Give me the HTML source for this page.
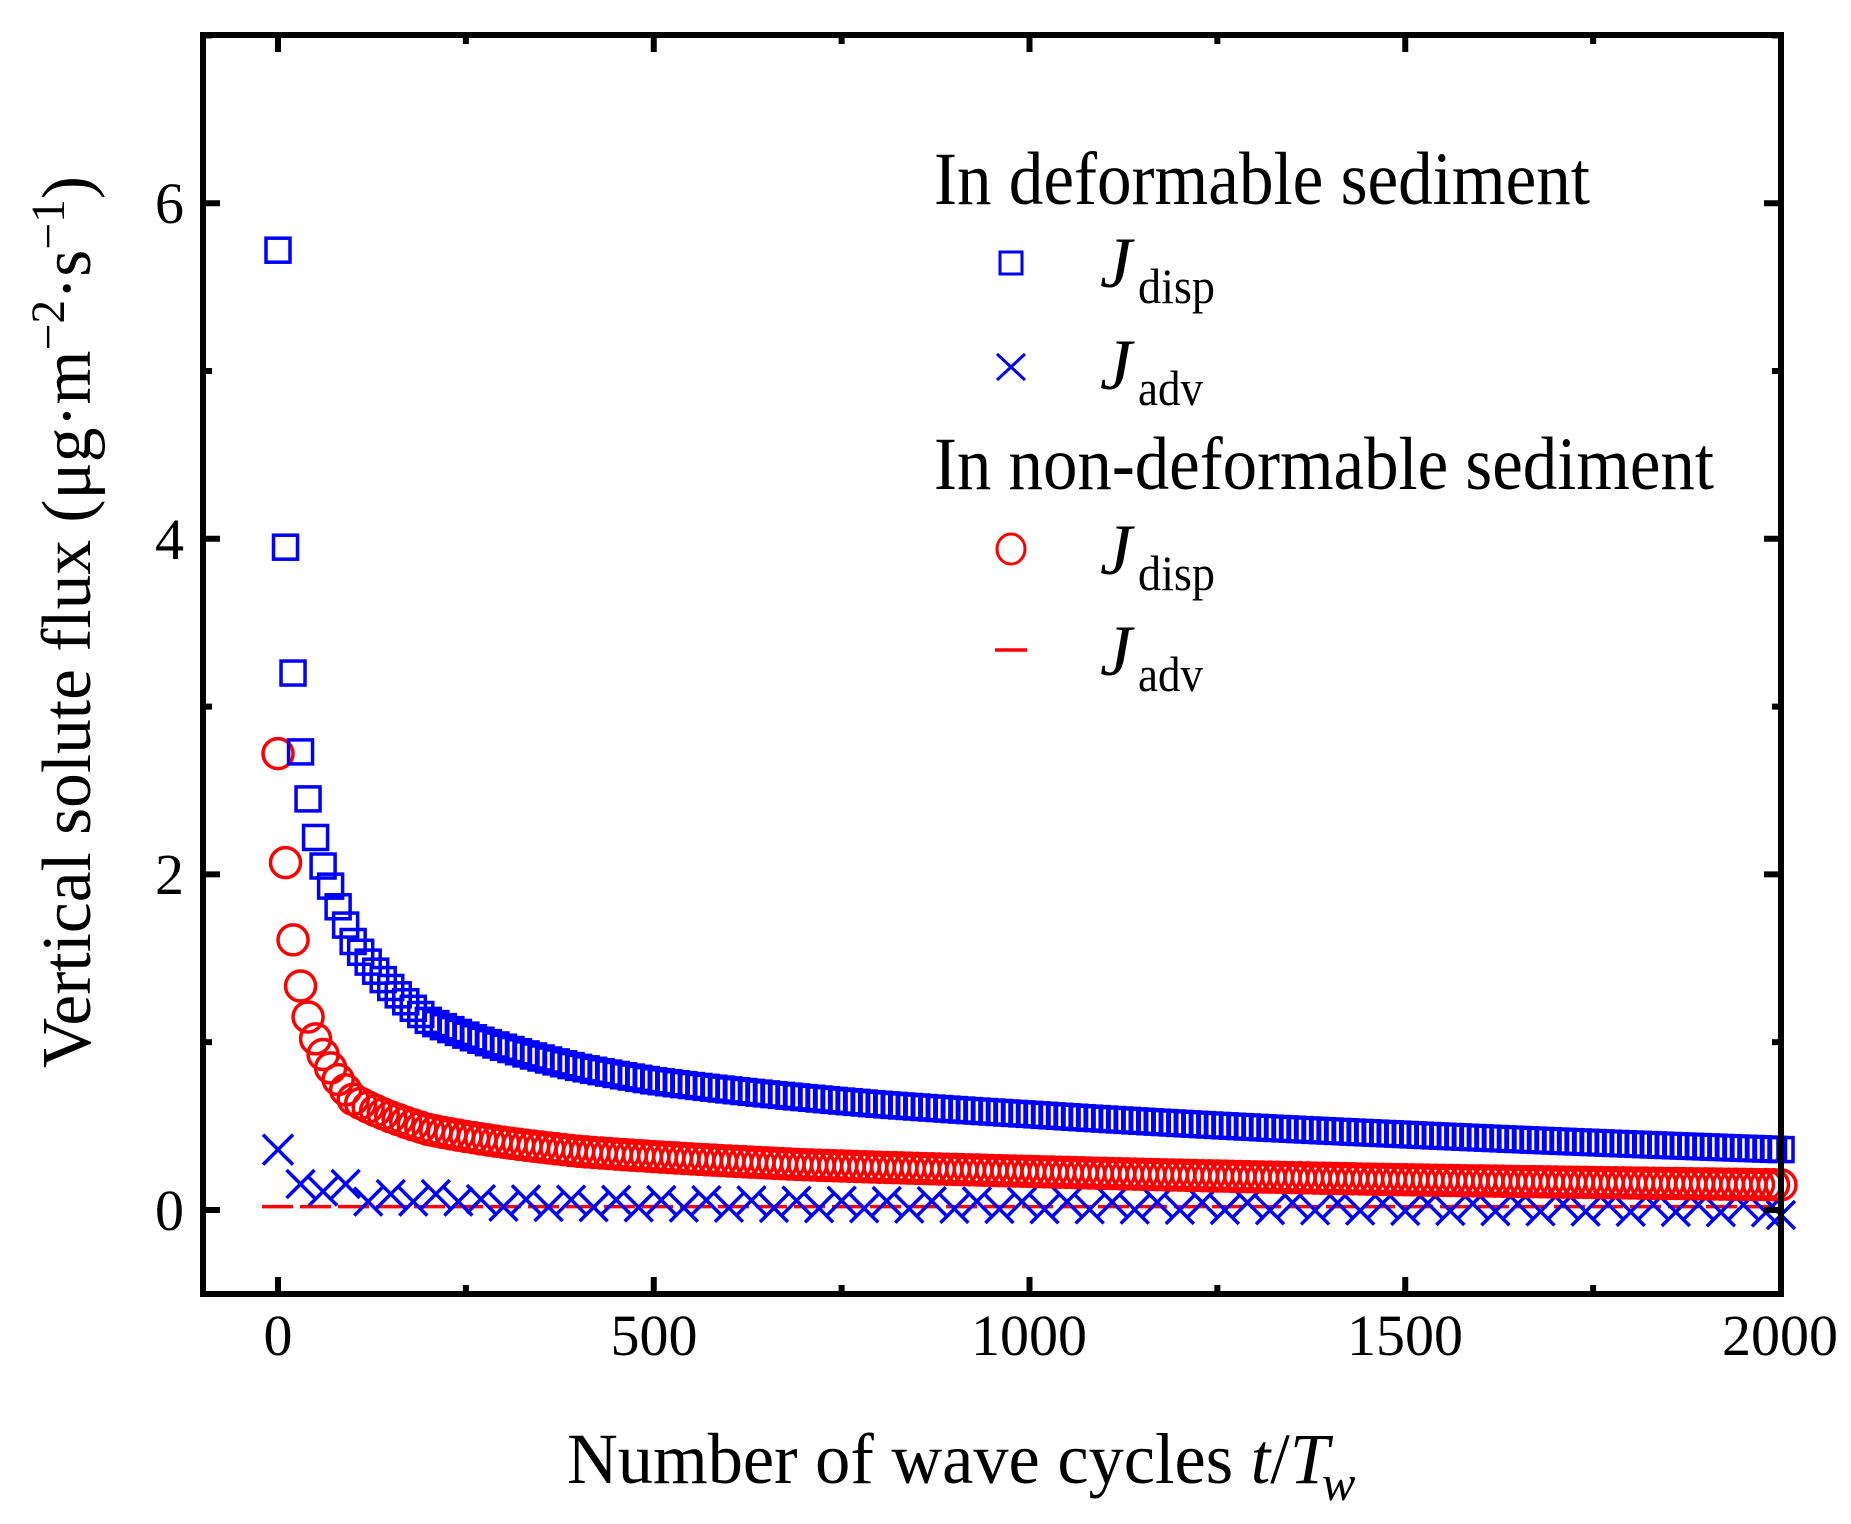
<!DOCTYPE html>
<html><head><meta charset="utf-8"><style>
html,body{margin:0;padding:0;background:#fff;}
svg{display:block;}
text{font-family:"Liberation Serif","DejaVu Serif",serif;fill:#000;}
</style></head><body>
<svg id="s" width="1851" height="1524" viewBox="0 0 1851 1524" xmlns="http://www.w3.org/2000/svg">
<g id="data"></g>
<rect x="203" y="35" width="1578" height="1259" fill="none" stroke="#000" stroke-width="6"/>
<g id="ticks" stroke="#000" stroke-width="6"></g>
<g font-size="58" text-anchor="middle">
<text x="278" y="1355">0</text>
<text x="654" y="1355">500</text>
<text x="1029" y="1355">1000</text>
<text x="1405" y="1355">1500</text>
<text x="1780" y="1355">2000</text>
</g>
<g font-size="58" text-anchor="end">
<text x="184" y="1230">0</text>
<text x="184" y="894">2</text>
<text x="184" y="559">4</text>
<text x="184" y="223">6</text>
</g>
<text x="567" y="1483" font-size="72" textLength="762" lengthAdjust="spacingAndGlyphs">Number of wave cycles <tspan font-style="italic">t</tspan>/<tspan font-style="italic">T</tspan></text>
<text x="1322" y="1500" font-size="50" font-style="italic">w</text>
<text transform="translate(90,1068) rotate(-90)" font-size="70" textLength="892" lengthAdjust="spacingAndGlyphs">Vertical solute flux (μg·m<tspan dy="-26" font-size="48">−2</tspan><tspan dy="26">·s</tspan><tspan dy="-26" font-size="48">−1</tspan><tspan dy="26">)</tspan></text>
<g font-size="75">
<text x="934" y="204" textLength="656" lengthAdjust="spacingAndGlyphs">In deformable sediment</text>
<text x="934" y="489" textLength="780" lengthAdjust="spacingAndGlyphs">In non-deformable sediment</text>
</g>
<g font-size="72" font-style="italic">
<text x="1100" y="287">J</text><text x="1100" y="389">J</text>
<text x="1100" y="574">J</text><text x="1100" y="675">J</text>
</g>
<g font-size="50">
<text x="1138" y="303" textLength="77" lengthAdjust="spacingAndGlyphs">disp</text>
<text x="1138" y="405" textLength="65" lengthAdjust="spacingAndGlyphs">adv</text>
<text x="1138" y="590" textLength="77" lengthAdjust="spacingAndGlyphs">disp</text>
<text x="1138" y="691" textLength="65" lengthAdjust="spacingAndGlyphs">adv</text>
</g>
<rect x="1000" y="252" width="22" height="22" fill="none" stroke="#00f" stroke-width="3"/>
<path d="M997 354 L1025 380 M1025 354 L997 380" stroke="#00f" stroke-width="3" fill="none"/>
<ellipse cx="1011" cy="549" rx="14" ry="15" fill="none" stroke="#f00" stroke-width="3"/>
<line x1="995" y1="650" x2="1027" y2="650" stroke="#f00" stroke-width="3.5"/>
</svg>
<script>
(function(){
var NS="http://www.w3.org/2000/svg";
function X(t){return 278+t*0.7515;}
function Y(v){return 1210-v*167.8;}
function el(p,tag,a){var e=document.createElementNS(NS,tag);for(var k in a)e.setAttribute(k,a[k]);p.appendChild(e);return e;}
function L(t){return Math.log(t+4);}
function interp(k,t){
  if(t<=k[0][0])return k[0][1];
  for(var i=1;i<k.length;i++){if(t<=k[i][0]){var a=k[i-1],b=k[i];var f=(L(t)-L(a[0]))/(L(b[0])-L(a[0]));return a[1]+f*(b[1]-a[1]);}}
  return k[k.length-1][1];
}
var tk=document.getElementById('ticks');
for(var t=0;t<=2000;t+=250){var x=X(t);var Ln=(t%500==0)?17:9;
 el(tk,'line',{x1:x,y1:1294,x2:x,y2:1294-Ln});el(tk,'line',{x1:x,y1:35,x2:x,y2:35+Ln});}
for(var v=0;v<=7;v++){var y=Y(v);var Ln=(v%2==0)?17:9;
 el(tk,'line',{x1:203,y1:y,x2:203+Ln,y2:y});el(tk,'line',{x1:1781,y1:y,x2:1781-Ln,y2:y});}
var d=document.getElementById('data');
var sq=[[0,5.72],[10,3.95],[20,3.2],[30,2.73],[40,2.45],[50,2.22],[60,2.05],[70,1.93],[100,1.6],[200,1.13],[300,0.97],[400,0.85],[500,0.77],[800,0.63],[1000,0.57],[1500,0.45],[2000,0.36]];
var ci=[[0,2.72],[10,2.07],[20,1.61],[30,1.335],[40,1.15],[50,1.02],[100,0.66],[200,0.48],[400,0.35],[700,0.27],[1000,0.23],[1500,0.18],[2000,0.15]];
el(d,'line',{x1:262,y1:Y(0.02),x2:1781,y2:Y(0.02),stroke:'#f00','stroke-width':3.5,'stroke-dasharray':'31 7'});
var cr=[];
cr.push([0,0.36]);
for(var t=30;t<=2000;t+=30){var base=t<100?0.13:(t<250?0.07:0.045-0.04*(t/2000));var v=base+((t/30)%2?0.025:-0.02);cr.push([t,v]);}
cr.push([2000,-0.03]);
cr.forEach(function(p){var x=X(p[0]),y=Y(p[1]),h=p[0]==0?15:14;
 el(d,'path',{d:'M'+(x-h)+' '+(y-h)+'L'+(x+h)+' '+(y+h)+'M'+(x+h)+' '+(y-h)+'L'+(x-h)+' '+(y+h),stroke:'#00f','stroke-width':3.5,fill:'none'});});
for(var t=0;t<=2000;t+=10){var x=X(t),y=Y(interp(ci,t));
 el(d,'circle',{cx:x,cy:y,r:15,fill:'none',stroke:'#f00','stroke-width':3.5});}
for(var t=0;t<=2000;t+=10){var x=X(t),y=Y(interp(sq,t));
 el(d,'rect',{x:x-12,y:y-12,width:24,height:24,fill:'none',stroke:'#00f','stroke-width':3.5});}
})();
</script>
</body></html>
